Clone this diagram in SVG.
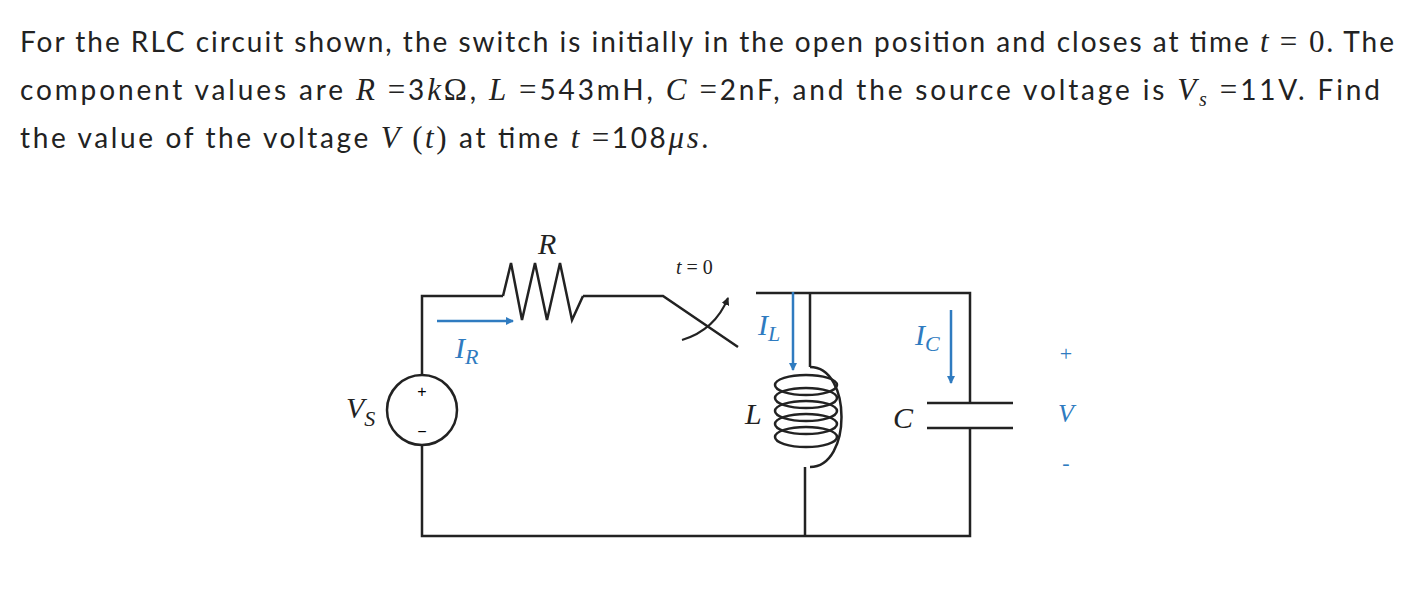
<svg xmlns="http://www.w3.org/2000/svg" width="1428" height="614" viewBox="0 0 1428 614">
<style>
.t{font-family:Lato,"Open Sans",sans-serif;font-size:28px;fill:#222}
.m{font-family:"Liberation Serif",serif;font-style:italic;font-size:31px}
.r{font-family:"Liberation Serif",serif;font-size:31px}
.w{fill:none;stroke:#222;stroke-width:2.5}
.b{stroke:#2f7bc0;stroke-width:2.5;fill:none}
.lb{font-family:"Liberation Serif",serif;font-style:italic;font-size:30px;fill:#222}
.bl{font-family:"Liberation Serif",serif;font-style:italic;font-size:30px;fill:#2f7bc0}
</style>
<defs><marker id="a" markerWidth="8" markerHeight="8" refX="7" refY="4" orient="auto" markerUnits="userSpaceOnUse"><path d="M0,0 L8,4 L0,8 z" fill="#2f7bc0"/></marker>
<marker id="k" markerWidth="8" markerHeight="8" refX="7" refY="4" orient="auto" markerUnits="userSpaceOnUse"><path d="M0,0 L8,4 L0,8 z" fill="#222"/></marker></defs>
<rect width="1428" height="614" fill="#fff"/>
<text class="t" x="20" y="52" textLength="1374" lengthAdjust="spacing">For the RLC circuit shown, the switch is initially in the open position and closes at time <tspan class="m">t</tspan>  <tspan class="r">=  0</tspan>.  The</text>
<text class="t" x="20" y="100" textLength="1360" lengthAdjust="spacing">component values are <tspan class="m">R</tspan>  <tspan class="r">=</tspan>3<tspan class="m">k</tspan><tspan class="r">Ω</tspan>, <tspan class="m">L</tspan>  <tspan class="r">=</tspan>543mH, <tspan class="m">C</tspan>  <tspan class="r">=</tspan>2nF, and the source voltage is <tspan class="m">V<tspan font-size="20" dy="6">s</tspan></tspan><tspan dy="-6">  </tspan><tspan class="r">=</tspan>11V.  Find</text>
<text class="t" x="20" y="148" textLength="688" lengthAdjust="spacing">the value of the voltage <tspan class="m">V</tspan>  <tspan class="r">(</tspan><tspan class="m">t</tspan><tspan class="r">)</tspan> at time <tspan class="m">t</tspan>  <tspan class="r">=</tspan>108<tspan class="m">μs</tspan>.</text>
<g id="wires">
<path class="w" d="M422,375 V296 H503 M583,296 H663 L738,347 M422,445 V536 H970 V428 M970,403 V293 H756 M810,293 V367 M805,467 V536"/>
</g>
<g id="resistor"><path class="w" d="M503,296 L511,263 L522,320 L535,263 L547,320 L560,263 L572,320 L583,296"/><text class="lb" x="538" y="254">R</text></g>
<g id="switch"><path d="M682,340 Q715,330 728,298" fill="none" stroke="#222" stroke-width="2" marker-end="url(#k)"/><text x="676" y="274" font-family="Liberation Serif,serif" font-size="20" fill="#222"><tspan font-style="italic">t</tspan> = 0</text></g>
<g id="source"><circle class="w" cx="422" cy="410" r="35"/><text x="422" y="397" text-anchor="middle" font-family="Liberation Sans,sans-serif" font-size="16">+</text><text x="422" y="437" text-anchor="middle" font-family="Liberation Sans,sans-serif" font-size="16">−</text><text class="lb" x="346" y="418">V<tspan font-size="22" dy="8">S</tspan></text></g>
<g id="inductor"><path class="w" d="M810,367 C852,367 852,467 810,467"/>
<ellipse class="w" cx="806" cy="385" rx="31" ry="10"/><ellipse class="w" cx="806" cy="398" rx="31" ry="10"/><ellipse class="w" cx="806" cy="411" rx="31" ry="10"/><ellipse class="w" cx="806" cy="424" rx="31" ry="10"/><ellipse class="w" cx="806" cy="437" rx="31" ry="10"/>
<text class="lb" x="745" y="424">L</text></g>
<g id="capacitor"><path class="w" d="M927,403 H1013 M927,428 H1013"/><text class="lb" x="893" y="428">C</text></g>
<g id="currents">
<path class="b" d="M437,321 H513" marker-end="url(#a)"/><text class="bl" x="455" y="358">I<tspan font-size="22" dy="6">R</tspan></text>
<path class="b" d="M793,292 V370" marker-end="url(#a)"/><text class="bl" x="758" y="335">I<tspan font-size="22" dy="6">L</tspan></text>
<path class="b" d="M951,310 V383" marker-end="url(#a)"/><text class="bl" x="915" y="345">I<tspan font-size="22" dy="6">C</tspan></text>
</g>
<g id="vlabel" font-family="Liberation Serif,serif" fill="#2f7bc0" text-anchor="middle"><text x="1066" y="361" font-size="22">+</text><text x="1066" y="422" font-size="26" font-style="italic">V</text><text x="1066" y="470" font-size="22">-</text></g>
</svg>
